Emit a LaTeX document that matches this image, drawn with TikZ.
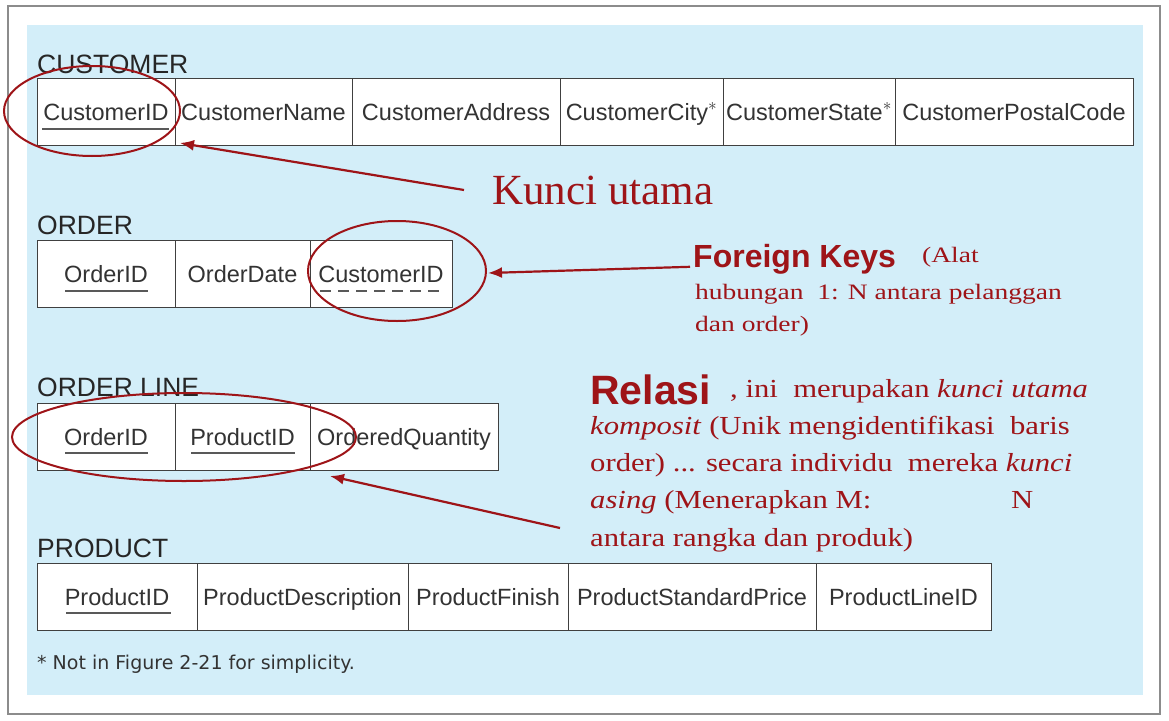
\documentclass[tikz,border=0pt]{standalone}
\usepackage{fontspec}
\setmainfont{Liberation Serif}
\setsansfont{Liberation Sans}
\newfontfamily\wideserif[FakeStretch=1.18]{Liberation Serif}
\newfontfamily\fkserif[FakeStretch=1.25]{Liberation Serif}
\newfontfamily\fnfont{DejaVu Sans}
\begin{document}
\begin{tikzpicture}[x=1pt,y=-1pt,
  cell/.style={draw=black!75,line width=1pt,fill=white},
  ctext/.style={font=\sffamily\fontsize{23.5}{23.5}\selectfont,text=black!80,inner sep=0pt,anchor=base},
  ttl/.style={font=\sffamily\fontsize{26.5}{26.5}\selectfont,text=black!85,anchor=base west,inner sep=0pt},
  red/.style={draw=dred,line width=2pt},
  arr/.style={draw=dred,line width=2.2pt,-{Latex[length=14pt,width=11pt]}},
  note/.style={font=\wideserif\fontsize{26}{26}\selectfont,text=dred,anchor=base west,inner sep=0pt},
  fnote/.style={font=\fkserif\fontsize{22}{22}\selectfont,text=dred,anchor=base west,inner sep=0pt},
  ul/.style={draw=black!65,line width=1.4pt}]
\usetikzlibrary{arrows.meta}
\definecolor{dred}{HTML}{9E1418}
\definecolor{panel}{HTML}{D3EEF9}
\useasboundingbox (0,0) rectangle (1169,720);
\fill[white] (0,0) rectangle (1169,720);
\draw[black!45,line width=1.2pt] (8,6) rectangle (1160,714);
\fill[panel] (27,25) rectangle (1143,695);
% CUSTOMER
\node[ttl] (tc) at (37,73) {CUSTOMER};
\foreach \a/\b/\t/\n in {37/175/CustomerID/c1,175/352/CustomerName/c2,352/560/CustomerAddress/c3,560/723/CustomerCity$^{*}$/c4,723/895/CustomerState$^{*}$/c5,895/1133/CustomerPostalCode/c6}{
  \draw[cell] (\a,78) rectangle (\b,145);
  \node[ctext] (\n) at ({(\a+\b)/2},120) {\t};}
\draw[ul] (42,129) -- (169,129);
% ORDER
\node[ttl] (to) at (37,234) {ORDER};
\foreach \a/\b/\t/\n in {37/175/OrderID/o1,175/310/OrderDate/o2,310/452/CustomerID/o3}{
  \draw[cell] (\a,240) rectangle (\b,307);
  \node[ctext] (\n) at ({(\a+\b)/2},282) {\t};}
\draw[ul] (65,291) -- (148,291);
\draw[ul,dash pattern=on 11pt off 7pt] (320,291) -- (444,291);
% ORDER LINE
\node[ttl] (tl) at (37,396) {ORDER LINE};
\foreach \a/\b/\t/\n in {37/175/OrderID/l1,175/310/ProductID/l2,310/498/OrderedQuantity/l3}{
  \draw[cell] (\a,403) rectangle (\b,470);
  \node[ctext] (\n) at ({(\a+\b)/2},445) {\t};}
\draw[ul] (65,453) -- (148,453);
\draw[ul] (191,453) -- (295,453);
% PRODUCT
\node[ttl] (tp) at (37,557) {PRODUCT};
\foreach \a/\b/\t/\n in {37/197/ProductID/p1,197/408/ProductDescription/p2,408/568/ProductFinish/p3,568/816/ProductStandardPrice/p4,816/991/ProductLineID/p5}{
  \draw[cell] (\a,563) rectangle (\b,630);
  \node[ctext] (\n) at ({(\a+\b)/2},605) {\t};}
\draw[ul] (66,613) -- (171,613);
\node[anchor=base west,inner sep=0pt,font=\fnfont\fontsize{19}{19}\selectfont,text=black!80] (fn) at (37,669) {* Not in Figure 2-21 for simplicity.};
% ellipses
\draw[red] (92,111) ellipse [x radius=88,y radius=45];
\draw[red] (397,271) ellipse [x radius=89,y radius=50];
\draw[red] (184,437) ellipse [x radius=172,y radius=44];
% labels
\node[anchor=west,inner sep=0pt,font=\fontsize{43}{43}\selectfont,text=dred] (ku) at (492,190) {Kunci utama};
\coordinate (a1) at (180,143);
\draw[arr] (ku.west) ++(-28,0) coordinate (k0) -- (a1);
\node[anchor=base west,inner sep=0pt,font=\sffamily\bfseries\fontsize{32}{32}\selectfont,text=dred] (fk) at (693,267) {Foreign Keys};
\node[fnote] (fk1) at (922,262) {(Alat};
\node[fnote] (fk2) at (695,299) {hubungan\ \ 1: N antara pelanggan};
\node[fnote] (fk3) at (695,331) {dan order)};
\coordinate (a2) at (488,273);
\draw[arr] (fk.west) ++(-3,8) coordinate (f0) -- (a2);
\node[anchor=base west,inner sep=0pt,font=\sffamily\bfseries\fontsize{41}{41}\selectfont,text=dred] (rl) at (590,404) {Relasi};
\node[note] (r1) at (730,397) {, ini\ \ merupakan \textit{kunci utama}};
\node[note] (r2) at (590,434) {\textit{komposit} (Unik mengidentifikasi\ \ baris};
\node[note] (r3) at (590,471) {order) ... secara individu\ \ mereka \textit{kunci}};
\node[note] (r4) at (590,508) {\textit{asing} (Menerapkan M:};
\node[note] (r4b) at (1011,508) {N};
\node[note] (r5) at (590,546) {antara rangka dan produk)};
\coordinate (r0) at (560,528);
\coordinate (a3) at (330,476);
\draw[arr] (r0) -- (a3);
\end{tikzpicture}
\end{document}
